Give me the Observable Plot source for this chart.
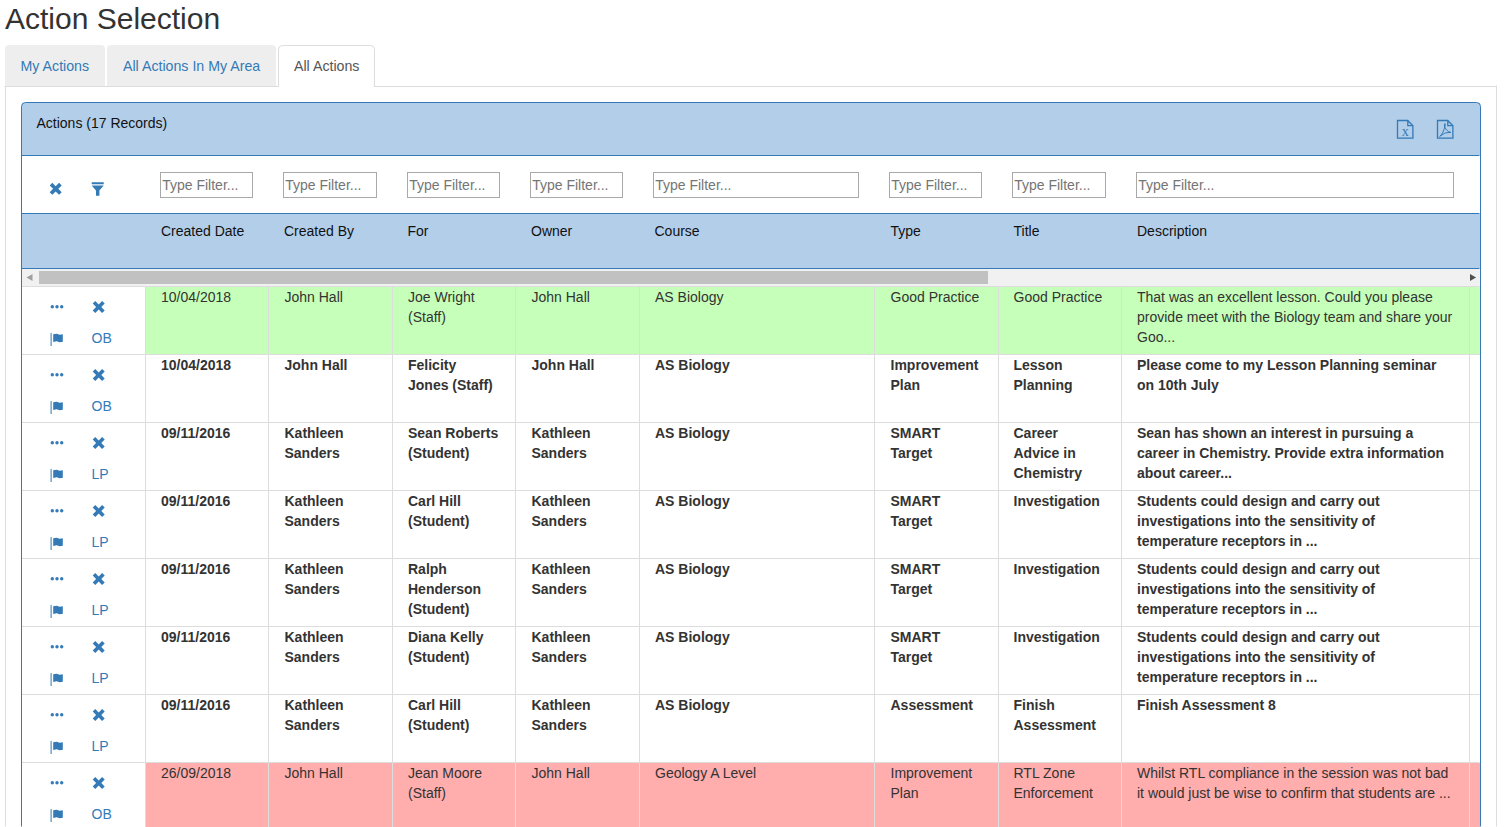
<!DOCTYPE html>
<html>
<head>
<meta charset="utf-8">
<script src="https://cdn.jsdelivr.net/npm/d3@7"></script>
<script src="https://cdn.jsdelivr.net/npm/@observablehq/plot@0.6"></script>
<style>html,body{margin:0;padding:0;background:#fff;overflow:hidden}svg{display:block}</style>
</head>
<body>
<script>
// ---- data ----
const pageTitle = "Action Selection";
const tabLabels = ["My Actions", "All Actions In My Area", "All Actions"];
const panelTitle = "Actions (17 Records)";
const filterPlaceholder = "Type Filter...";
const columnNames = ["Created Date", "Created By", "For", "Owner", "Course", "Type", "Title", "Description"];
const rowStatus = ["good", "plain", "plain", "plain", "plain", "plain", "plain", "bad"];
const rowCodes = ["OB", "OB", "LP", "LP", "LP", "LP", "LP", "OB"];
const createdDates = ["10/04/2018", "10/04/2018", "09/11/2016", "09/11/2016", "09/11/2016", "09/11/2016", "09/11/2016", "26/09/2018"];
const createdBy = ["John Hall", "John Hall", "Kathleen\nSanders", "Kathleen\nSanders", "Kathleen\nSanders", "Kathleen\nSanders", "Kathleen\nSanders", "John Hall"];
const forNames = ["Joe Wright\n(Staff)", "Felicity\nJones (Staff)", "Sean Roberts\n(Student)", "Carl Hill\n(Student)", "Ralph\nHenderson\n(Student)", "Diana Kelly\n(Student)", "Carl Hill\n(Student)", "Jean Moore\n(Staff)"];
const owners = ["John Hall", "John Hall", "Kathleen\nSanders", "Kathleen\nSanders", "Kathleen\nSanders", "Kathleen\nSanders", "Kathleen\nSanders", "John Hall"];
const courses = ["AS Biology", "AS Biology", "AS Biology", "AS Biology", "AS Biology", "AS Biology", "AS Biology", "Geology A Level"];
const types = ["Good Practice", "Improvement\nPlan", "SMART\nTarget", "SMART\nTarget", "SMART\nTarget", "SMART\nTarget", "Assessment", "Improvement\nPlan"];
const titles = ["Good Practice", "Lesson\nPlanning", "Career\nAdvice in\nChemistry", "Investigation", "Investigation", "Investigation", "Finish\nAssessment", "RTL Zone\nEnforcement"];
const descriptions = [
  "That was an excellent lesson. Could you please\nprovide meet with the Biology team and share your\nGoo...",
  "Please come to my Lesson Planning seminar\non 10th July",
  "Sean has shown an interest in pursuing a\ncareer in Chemistry. Provide extra information\nabout career...",
  "Students could design and carry out\ninvestigations into the sensitivity of\ntemperature receptors in ...",
  "Students could design and carry out\ninvestigations into the sensitivity of\ntemperature receptors in ...",
  "Students could design and carry out\ninvestigations into the sensitivity of\ntemperature receptors in ...",
  "Finish Assessment 8",
  "Whilst RTL compliance in the session was not bad\nit would just be wise to confirm that students are ..."
];
const columnValues = [createdDates, createdBy, forNames, owners, courses, types, titles, descriptions];

// ---- layout ----
const W = 1506, H = 827;
const font = "'Liberation Sans', Arial, sans-serif";
const BLUE = "#337ab7", HEAD = "#b3cee9", GRID = "#dddddd", INK = "#333333";
const colLeft = [145.5, 268.5, 392.5, 515.5, 639.5, 874.5, 998.5, 1121.5];
const colEnd = 1469.5;
const headX = [161, 284, 407.5, 531, 654.5, 890.5, 1013.5, 1137];
const bodyX = [161, 284.5, 408, 531.5, 655, 890.5, 1013.5, 1137];
const inputs = [[160.5,252.5],[283.5,376.5],[407.5,499.5],[530.5,622.5],[653.5,858.5],[889.5,981.5],[1012.5,1105.5],[1136.5,1453.5]];
const rowTop = 287, rowH = 68;
const rowY = i => rowTop + i * rowH;

const rows = rowStatus.map((status, i) => ({status, i, code: rowCodes[i], top: rowY(i), bottom: rowY(i) + rowH}));
const cells = rows.flatMap(r => columnValues.map((vals, c) => ({
  text: vals[r.i], x: bodyX[c], y: r.top + 0.5, bold: r.status === "plain"
})));
const gridCols = [...colLeft, colEnd];
const gridLines = rows.flatMap(r => gridCols.map(x => ({x, y1: r.top, y2: r.bottom})));
const sepRows = rows.map(r => ({y: r.bottom - 0.5}));
const rowFill = {good: "#c6ffb9", bad: "#ffadad"};
const box = (x1, x2, y1, y2) => ({x1: x1 + 0.5, x2: x2 + 0.5, y1: y1 + 0.5, y2: y2 + 0.5});

// custom icon symbols, drawn about the dot's own centre
const sym = draw => ({draw});
const flagSym = sym(c => {
  c.moveTo(-6, -6); c.lineTo(-6, 7); c.lineTo(-5, 7); c.lineTo(-5, -6); c.closePath();
  c.moveTo(-3.4, -4.8); c.lineTo(0, -5.2); c.lineTo(3, -4.2); c.lineTo(6.2, -4.8); c.lineTo(6.2, 2.8);
  c.lineTo(3, 3.3); c.lineTo(0, 2.3); c.lineTo(-3.4, 3); c.closePath();
});
const crossSym = sym(c => {
  const a = 2.6, b = 6, e = 3.4;
  c.moveTo(-e, -b); c.lineTo(0, -a); c.lineTo(e, -b); c.lineTo(b, -e); c.lineTo(a, 0); c.lineTo(b, e);
  c.lineTo(e, b); c.lineTo(0, a); c.lineTo(-e, b); c.lineTo(-b, e); c.lineTo(-a, 0); c.lineTo(-b, -e); c.closePath();
});
const funnelSym = sym(c => {
  c.moveTo(-6, -6.5); c.lineTo(6, -6.5); c.lineTo(6, -4.6); c.lineTo(-6, -4.6); c.closePath();
  c.moveTo(-6, -3.4); c.lineTo(6, -3.4); c.lineTo(1.7, 1.6); c.lineTo(1.7, 7); c.lineTo(-1.7, 7); c.lineTo(-1.7, 1.6); c.closePath();
});
const fileSym = sym(c => {
  c.moveTo(-7.7, -8.8); c.lineTo(2.6, -8.8); c.lineTo(7.7, -3.6); c.lineTo(7.7, 8.8); c.lineTo(-7.7, 8.8); c.closePath();
  c.moveTo(2.6, -8.8); c.lineTo(2.6, -3.6); c.lineTo(7.7, -3.6);
});
const acroSym = sym(c => {
  c.moveTo(-5.5, 6.6); c.quadraticCurveTo(-1.6, 3.4, 0, -4.8);
  c.quadraticCurveTo(0, -7.6, -0.9, -5); c.quadraticCurveTo(0.2, 1.4, 5.6, 2.6);
  c.quadraticCurveTo(0, 1.6, -5.5, 6.6);
});

const textOf = (data, extra) => Plot.text(data, {
  x: "x", y: "y", text: "text", textAnchor: "start", lineAnchor: "middle",
  fontFamily: font, fontSize: 14, fill: INK, ...extra
});
const rectOf = (data, extra) => Plot.rect(data, {x1: "x1", x2: "x2", y1: "y1", y2: "y2", ...extra});

const plot = Plot.plot({
  width: W, height: H, margin: 0,
  x: {domain: [0, W], range: [-0.5, W - 0.5], axis: null},
  y: {domain: [0, H], range: [-0.5, H - 0.5], axis: null},
  style: {background: "#fff", fontFamily: font},
  marks: [
    // outer tab panel
    Plot.ruleY([86.5], {x1: 5, x2: 1497, stroke: GRID}),
    Plot.ruleX([5.5, 1496.5], {y1: 86, y2: H, stroke: GRID}),
    // tabs
    rectOf([box(5,105,45,70), box(107,276,45,70)], {fill:"#eeeeee",r:4}),
    rectOf([box(5,105,52,86), box(107,276,52,86)], {fill:"#eeeeee"}),
    rectOf([box(278.5,374.5,45.5,95)], {fill:"#fff",stroke:GRID,r:4}),
    rectOf([box(270,380,87,100)], {fill:"#fff"}),
    rectOf([box(279,374,60,87)], {fill:"#fff"}),
    Plot.ruleX([278.5, 374.5], {y1: 60, y2: 86, stroke: GRID}),
    Plot.text(tabLabels.map((text,i)=>({text,x:[20.5,123,294][i],y:66.5,active:i===2})), {
      x:"x",y:"y",text:"text",textAnchor:"start",lineAnchor:"middle",fontFamily:font,fontSize:14.2,
      fill:d=>d.active?"#555555":BLUE
    }),
    // title
    Plot.text([{text:pageTitle,x:5,y:19}], {x:"x",y:"y",text:"text",textAnchor:"start",lineAnchor:"middle",fontFamily:font,fontSize:30,fill:INK}),
    // panel header
    rectOf([box(21.5,1480.5,102.5,140)], {fill:HEAD,stroke:BLUE,r:4}),
    rectOf([box(22,1480,110,155)], {fill:HEAD}),
    rectOf([box(22,1480,156,213)], {fill:"#fff"}),
    rectOf([box(22,1480,214,268)], {fill:HEAD}),
    rectOf([box(22,1480,269,287)], {fill:"#f1f1f1"}),
    rectOf([box(39,988,271,284)], {fill:"#c1c1c1"}),
    // row fills
    rectOf(rows.filter(r=>rowFill[r.status]).map(r=>({...box(145,1480,r.top,r.bottom),status:r.status})), {fill:d=>rowFill[d.status]}),
    // grid
    Plot.ruleY(sepRows, {y:"y",x1:22,x2:1480,stroke:GRID}),
    Plot.ruleY([286.5], {x1:22,x2:1480,stroke:GRID}),
    Plot.ruleX(gridLines, {x:"x",y1:"y1",y2:"y2",stroke:GRID}),
    // panel borders
    Plot.ruleY([155.5, 213.5, 268.5], {x1:22,x2:1480,stroke:BLUE}),
    Plot.ruleX([21.5, 1480.5], {y1:108,y2:H,stroke:BLUE}),
    // scroll arrows
    Plot.dot([{x:30.5,y:277.5,rotate:-90},{x:1472,y:277.5,rotate:90}], {x:"x",y:"y",r:2.6,symbol:"triangle",rotate:"rotate",fill:d=>d.x<100?"#a0a0a0":"#505050"}),
    // header texts and icons
    textOf([{text:panelTitle,x:36.5,y:124}], {fill:"#111"}),
    textOf(columnNames.map((text,i)=>({text,x:headX[i],y:232})), {fill:"#111"}),
    rectOf(inputs.map(([a,b])=>box(a,b,172.5,197.5)), {fill:"#fff",stroke:"#a9a9a9"}),
    textOf(inputs.map(([a])=>({text:filterPlaceholder,x:a+1.7,y:186})), {fill:"#757575"}),
    Plot.dot([{x:55.7,y:188.8}], {x:"x",y:"y",symbol:crossSym,fill:BLUE,r:6}),
    Plot.dot([{x:97.7,y:188.8}], {x:"x",y:"y",symbol:funnelSym,fill:BLUE,r:6}),
    Plot.dot([{x:1405.2,y:129.3},{x:1445.2,y:129.3}], {x:"x",y:"y",symbol:fileSym,stroke:BLUE,fill:"none",strokeWidth:1.3,r:8}),
    Plot.text([{text:"x",x:1405.2,y:131.5}], {x:"x",y:"y",text:"text",fontFamily:"'Liberation Serif',serif",fontSize:14,fill:BLUE,lineAnchor:"middle"}),
    Plot.dot([{x:1445.2,y:129.8}], {x:"x",y:"y",symbol:acroSym,stroke:BLUE,fill:"none",strokeWidth:1,r:6}),
    // row action icons
    Plot.dot(rows.flatMap(r=>[52.3,57,61.7].map(x=>({x,y:r.top+19.8}))), {x:"x",y:"y",r:1.7,fill:BLUE}),
    Plot.dot(rows, {x:()=>98.7,y:d=>d.top+20,symbol:crossSym,fill:BLUE,r:6}),
    Plot.dot(rows, {x:()=>56.6,y:d=>d.top+52,symbol:flagSym,fill:BLUE,r:6}),
    textOf(rows.map(r=>({text:r.code,x:91.5,y:r.top+51.5})), {fill:BLUE}),
    // body cells
    Plot.text(cells.filter(d=>!d.bold), {x:"x",y:"y",text:"text",textAnchor:"start",lineAnchor:"top",lineHeight:20/14,fontFamily:font,fontSize:14,fill:INK}),
    Plot.text(cells.filter(d=>d.bold), {x:"x",y:"y",text:"text",textAnchor:"start",lineAnchor:"top",lineHeight:20/14,fontFamily:font,fontSize:14,fontWeight:"bold",fill:INK})
  ]
});
document.body.appendChild(plot);
</script>
</body>
</html>
